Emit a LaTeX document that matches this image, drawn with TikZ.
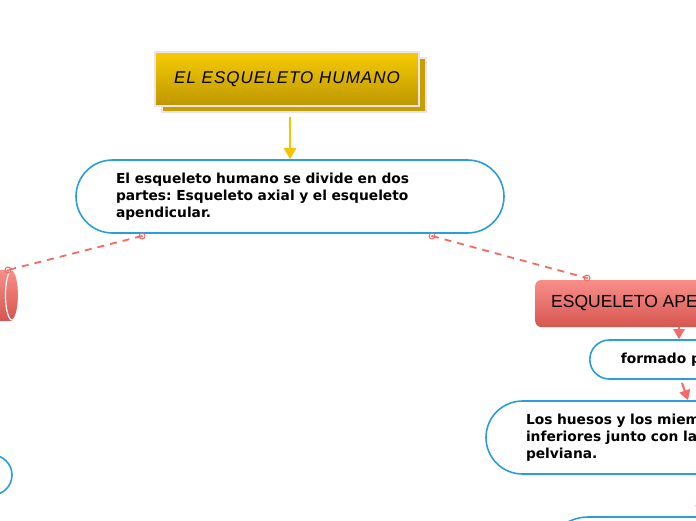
\documentclass[tikz,border=0pt]{standalone}
\usepackage{fontspec}
\setmainfont{DejaVu Sans}
\newfontfamily\titlefont[LetterSpace=6]{Liberation Sans}
\newfontfamily\topicfont{Liberation Sans}
\usetikzlibrary{shapes.misc,arrows.meta}
\frenchspacing

\definecolor{ideablue}{RGB}{42,157,225}
\definecolor{linkred}{RGB}{244,106,102}
\definecolor{yellowline}{RGB}{245,196,0}
\definecolor{titletop}{RGB}{246,203,3}
\definecolor{titlebot}{RGB}{189,151,0}
\definecolor{shadowfill}{RGB}{199,160,0}
\definecolor{titleedge}{RGB}{238,226,238}
\definecolor{redtop}{RGB}{249,142,137}
\definecolor{redbot}{RGB}{214,86,80}

\tikzset{
  ideabox/.style={shape=rounded rectangle, draw=ideablue, line width=1.6pt, fill=white,
    inner sep=0pt, font=\bfseries\fontsize{13.8}{17}\selectfont},
  titlebox/.style={shape=rectangle, draw=titleedge, line width=2.5pt,
    top color=titletop, bottom color=titlebot, inner sep=0pt},
  topicbox/.style={shape=rectangle, rounded corners=6pt, top color=redtop, bottom color=redbot,
    inner xsep=16pt, inner ysep=0pt, font=\topicfont\fontsize{17.5}{20}\selectfont},
  link/.style={draw=linkred, line width=1.8pt, dash pattern=on 7pt off 6pt},
  anchordot/.style={draw=linkred, line width=1pt},
  yellowarrow/.style={draw=yellowline, line width=2pt, -{Triangle[width=12pt,length=11pt]}},
  redarrow/.style={draw=linkred, line width=2pt, -{Triangle[width=11pt,length=10pt]}}
}

\begin{document}
\begin{tikzpicture}[x=1pt, y=-1pt]
  \useasboundingbox (0,0) rectangle (696,520);

  \node (shadow) at (294,85) [titlebox, top color=shadowfill, bottom color=shadowfill,
    minimum width=264pt, minimum height=54pt] {};
  \node (title) at (287,79) [titlebox, minimum width=264pt, minimum height=54pt,
    font=\titlefont\itshape\fontsize{17}{18}\selectfont] {EL ESQUELETO HUMANO};

  \node (parts) at (290,196.5) [ideabox, minimum width=428pt, minimum height=73pt,
    text width=348pt, align=left] {El esqueleto humano se divide en dos\\partes: Esqueleto axial y el esqueleto\\apendicular.};

  \node (apend) at (535,303.5) [topicbox, anchor=west, minimum height=47pt] {ESQUELETO APENDICULAR};
  \node (formado) at (589,359.5) [ideabox, anchor=west, minimum width=164pt, minimum height=39pt] {formado por:};
  \node (huesos) at (700,437.5) [ideabox, minimum width=428pt, minimum height=73pt,
    text width=348pt, align=left] {Los huesos y los miembros superiores\\inferiores junto con la cintura\\pelviana.};
  \node (below) at (727,560) [ideabox, minimum width=364pt, minimum height=86pt] {};
  \node (leftidea) at (-60,475) [ideabox, minimum width=144pt, minimum height=40pt] {};

  \shade[top color=redtop, bottom color=redbot] (-20,270) rectangle (12,320);
  \shade[top color=redtop, bottom color=redbot, draw=white, line width=1.2pt] (12,295) ellipse (6.5 and 25);

  \coordinate (p1) at (142,236);
  \coordinate (p2) at (432,236);
  \coordinate (a1) at (8,270);
  \coordinate (a2) at (587,278);
  \coordinate (f1) at (679,0);
  \coordinate (h1) at (682,0);
  \coordinate (h2) at (688,0);
  \coordinate (b1) at (702,0);
  \coordinate (b2) at (699,0);

  \draw[yellowarrow] ([yshift=-4pt]shadow.south -| parts.north) -- (parts.north);
  \draw[link] (p1) -- (a1);
  \draw[link] (p2) -- (a2);
  \foreach \c in {p1,p2,a1,a2} {
    \draw[anchordot] (\c) circle (3pt);
    \fill[linkred] (\c) circle (1pt);
  }
  \draw[redarrow] (apend.south -| f1) -- (formado.north -| f1);
  \draw[redarrow] ([yshift=-3pt]formado.south -| h1) -- (huesos.north -| h2);
  \draw[redarrow] ([yshift=-28pt]huesos.south -| b1) -- (below.north -| b2);
\end{tikzpicture}
\end{document}
